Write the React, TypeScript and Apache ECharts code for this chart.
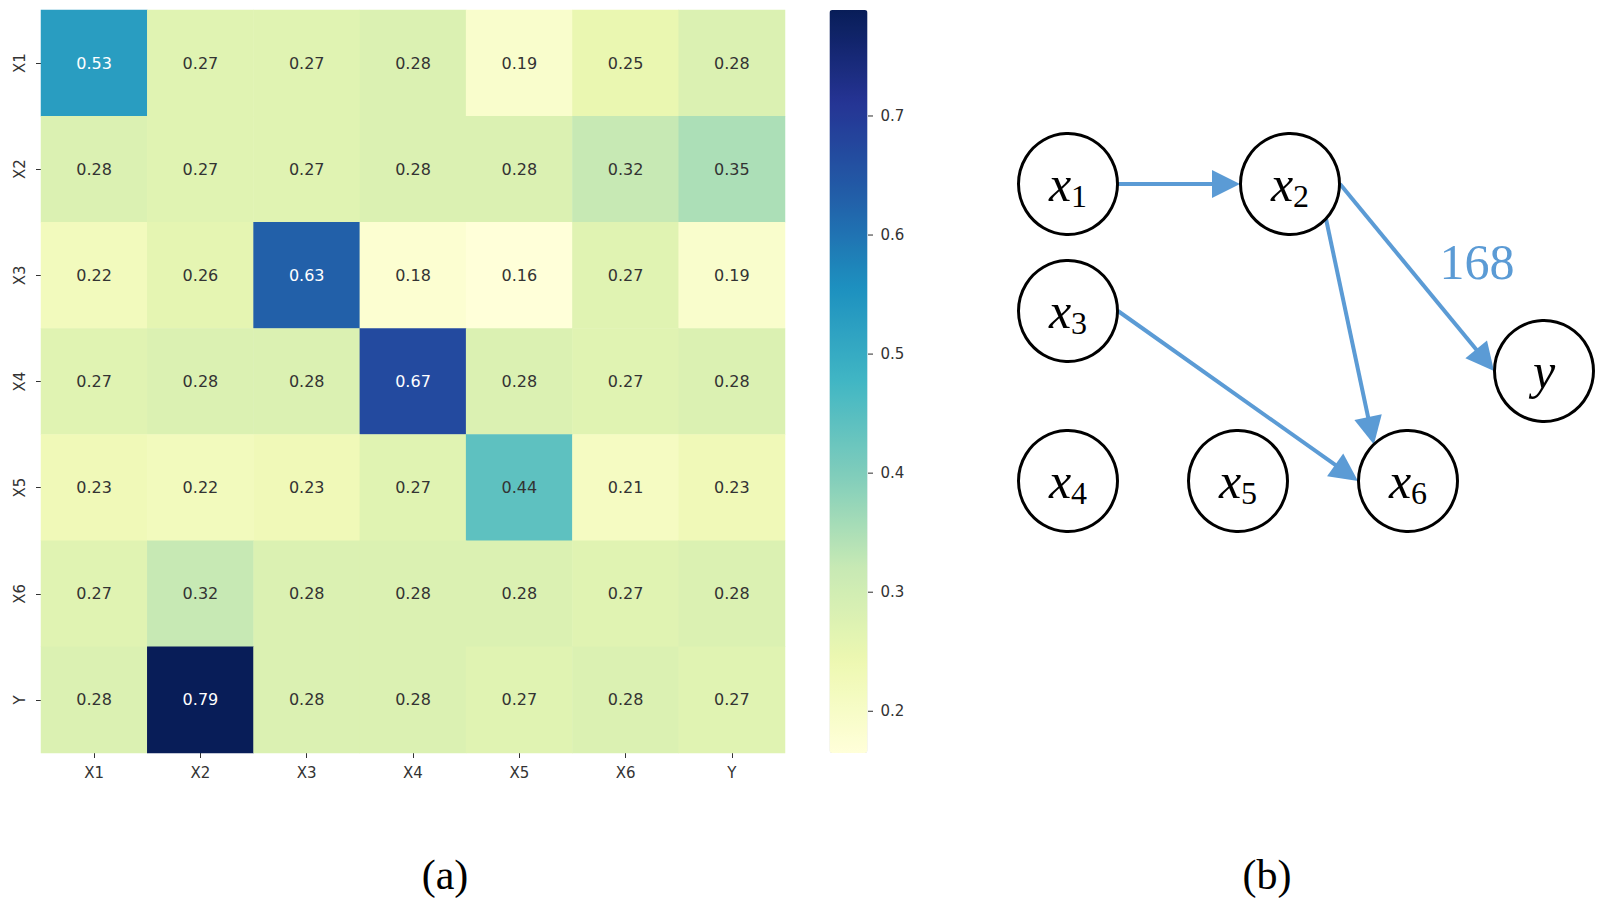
import React, { useEffect, useRef } from "react";
import * as echarts from "echarts";

// ---------- Heatmap data (panel a) ----------
const varLabels = ["X1", "X2", "X3", "X4", "X5", "X6", "Y"];
const rowX1 = [0.53, 0.27, 0.27, 0.28, 0.19, 0.25, 0.28];
const rowX2 = [0.28, 0.27, 0.27, 0.28, 0.28, 0.32, 0.35];
const rowX3 = [0.22, 0.26, 0.63, 0.18, 0.16, 0.27, 0.19];
const rowX4 = [0.27, 0.28, 0.28, 0.67, 0.28, 0.27, 0.28];
const rowX5 = [0.23, 0.22, 0.23, 0.27, 0.44, 0.21, 0.23];
const rowX6 = [0.27, 0.32, 0.28, 0.28, 0.28, 0.27, 0.28];
const rowY = [0.28, 0.79, 0.28, 0.28, 0.27, 0.28, 0.27];
const matrixRows = [rowX1, rowX2, rowX3, rowX4, rowX5, rowX6, rowY];

const colorbarMin = 0.165;
const colorbarMax = 0.789;
const colorbarTicks = [0.2, 0.3, 0.4, 0.5, 0.6, 0.7];
const ylgnbu = ["#ffffd9", "#edf8b1", "#c7e9b4", "#7fcdbb", "#41b6c4", "#1d91c0", "#225ea8", "#253494", "#081d58"];

// ---------- Causal graph data (panel b) ----------
const nodeNames = ["x1", "x2", "x3", "x4", "x5", "x6", "y"];
const nodeSubs = ["1", "2", "3", "4", "5", "6", ""];
const nodeX = [1068, 1290, 1068, 1068, 1238, 1408, 1544];
const nodeY = [184, 184, 311, 481, 481, 481, 371];
const edgeFrom = ["x1", "x2", "x2", "x3"];
const edgeTo = ["x2", "y", "x6", "x6"];
const edgeFromAngle = [0, 0, 44, 0];
const edgeToAngle = [180, 180, 227, 180];
const edgeWeightText = "168";

const captions = ["(a)", "(b)"];

const NODE_R = 50;
const ARROW = 28;
const EDGE_COLOR = "#5B9BD5";

export default function App() {
  const ref = useRef<HTMLDivElement>(null);

  useEffect(() => {
    if (!ref.current) return;
    const chart = echarts.init(ref.current, null, { renderer: "svg" });

    const heatData: any[] = [];
    matrixRows.forEach((row, r) => {
      row.forEach((v, c) => {
        heatData.push({
          value: [c, r, v],
          label: { color: v > 0.5 ? "#ffffff" : "#333333" },
        });
      });
    });

    const idx = (n: string) => nodeNames.indexOf(n);
    const edgeData = edgeFrom.map((f, i) => {
      const a = idx(f);
      const b = idx(edgeTo[i]);
      const aa = (edgeFromAngle[i] * Math.PI) / 180;
      const ba = (edgeToAngle[i] * Math.PI) / 180;
      const sx = nodeX[a] + NODE_R * Math.cos(aa);
      const sy = nodeY[a] + NODE_R * Math.sin(aa);
      const tx = nodeX[b] + NODE_R * Math.cos(ba);
      const ty = nodeY[b] + NODE_R * Math.sin(ba);
      const len = Math.hypot(tx - sx, ty - sy);
      const ux = (tx - sx) / len;
      const uy = (ty - sy) / len;
      return {
        coords: [
          [sx, sy],
          [tx - (ux * ARROW) / 2, ty - (uy * ARROW) / 2],
        ],
      };
    });

    const nodeData = nodeNames.map((n, i) => ({ name: n, value: [nodeX[i], nodeY[i]], sub: nodeSubs[i] }));

    const axisText = { fontFamily: "DejaVu Sans", fontSize: 15, color: "#333" };

    chart.setOption({
      animation: false,
      backgroundColor: "#ffffff",
      grid: [
        { left: 41, top: 10, width: 744, height: 743 },
        { left: 829.5, top: 10, width: 38, height: 743 },
        { left: 0, top: 0, width: 1600, height: 900 },
      ],
      xAxis: [
        {
          type: "category",
          gridIndex: 0,
          data: varLabels,
          axisLine: { show: false },
          axisTick: { show: true, alignWithLabel: true, length: 5, lineStyle: { color: "#333" } },
          axisLabel: { ...axisText, margin: 12 },
          splitLine: { show: false },
        },
        { type: "value", gridIndex: 1, show: false, min: 0, max: 1 },
        { type: "value", gridIndex: 2, show: false, min: 0, max: 1600 },
      ],
      yAxis: [
        {
          type: "category",
          gridIndex: 0,
          data: varLabels,
          inverse: true,
          axisLine: { show: false },
          axisTick: { show: true, alignWithLabel: true, length: 5, lineStyle: { color: "#333" } },
          axisLabel: { ...axisText, rotate: 90, margin: 14 },
          splitLine: { show: false },
        },
        {
          type: "value",
          gridIndex: 1,
          position: "right",
          min: colorbarMin,
          max: colorbarMax,
          axisLine: { show: false, onZero: false },
          splitLine: { show: false },
          axisTick: { show: false },
          axisLabel: {
            ...axisText,
            margin: 13,
            customValues: colorbarTicks,
            formatter: (v: number) => v.toFixed(1),
          },
        },
        { type: "value", gridIndex: 2, show: false, min: 0, max: 900, inverse: true },
      ],
      visualMap: {
        type: "continuous",
        seriesIndex: 0,
        min: colorbarMin,
        max: colorbarMax,
        calculable: false,
        hoverLink: false,
        orient: "vertical",
        left: 829.5,
        top: 10,
        padding: 0,
        itemWidth: 38,
        itemHeight: 743,
        inRange: { color: ylgnbu },
      },
      series: [
        {
          type: "heatmap",
          xAxisIndex: 0,
          yAxisIndex: 0,
          data: heatData,
          label: {
            show: true,
            fontFamily: "DejaVu Sans",
            fontSize: 16,
            formatter: (p: any) => p.value[2].toFixed(2),
          },
          itemStyle: { borderWidth: 0 },
          emphasis: { disabled: true },
        },
        {
          // colorbar tick marks
          type: "scatter",
          xAxisIndex: 1,
          yAxisIndex: 1,
          data: colorbarTicks.map((t) => [1, t]),
          symbol: "rect",
          symbolSize: [5, 1.3],
          symbolOffset: [3, 0],
          itemStyle: { color: "#333" },
          silent: true,
          z: 6,
        },
        {
          type: "lines",
          coordinateSystem: "cartesian2d",
          xAxisIndex: 2,
          yAxisIndex: 2,
          data: edgeData,
          symbol: ["none", "triangle"],
          symbolSize: ARROW,
          lineStyle: { color: EDGE_COLOR, width: 4, opacity: 1 },
          z: 3,
        },
        {
          type: "scatter",
          xAxisIndex: 2,
          yAxisIndex: 2,
          data: nodeData,
          symbol: "circle",
          symbolSize: [99, 101],
          itemStyle: { color: "#ffffff", borderColor: "#000000", borderWidth: 3, opacity: 1 },
          z: 4,
          label: {
            show: true,
            position: "inside",
            formatter: (p: any) => {
              const s = p.data.sub;
              const letter = p.data.name.charAt(0);
              return s ? `{v|${letter}}{s|${s}}` : `{v|${letter}}`;
            },
            rich: {
              v: {
                fontFamily: "Liberation Serif",
                fontStyle: "italic",
                fontSize: 50,
                lineHeight: 56,
                color: "#000",
              },
              s: {
                fontFamily: "Liberation Serif",
                fontSize: 32,
                lineHeight: 32,
                verticalAlign: "bottom",
                color: "#000",
              },
            },
          },
        },
      ],
      graphic: [
        {
          type: "text",
          x: 1477,
          y: 262,
          z: 10,
          style: {
            text: edgeWeightText,
            fill: EDGE_COLOR,
            font: "50px 'Liberation Serif'",
            align: "center",
            verticalAlign: "middle",
          },
        },
        {
          type: "text",
          x: 445,
          y: 875,
          style: {
            text: captions[0],
            fill: "#000",
            font: "42px 'Liberation Serif'",
            align: "center",
            verticalAlign: "middle",
          },
        },
        {
          type: "text",
          x: 1267,
          y: 875,
          style: {
            text: captions[1],
            fill: "#000",
            font: "42px 'Liberation Serif'",
            align: "center",
            verticalAlign: "middle",
          },
        },
      ],
    });

    return () => chart.dispose();
  }, []);

  return (
    <div
      ref={ref}
      style={{ position: "fixed", left: 0, top: 0, width: 1600, height: 900, background: "#fff" }}
    />
  );
}
